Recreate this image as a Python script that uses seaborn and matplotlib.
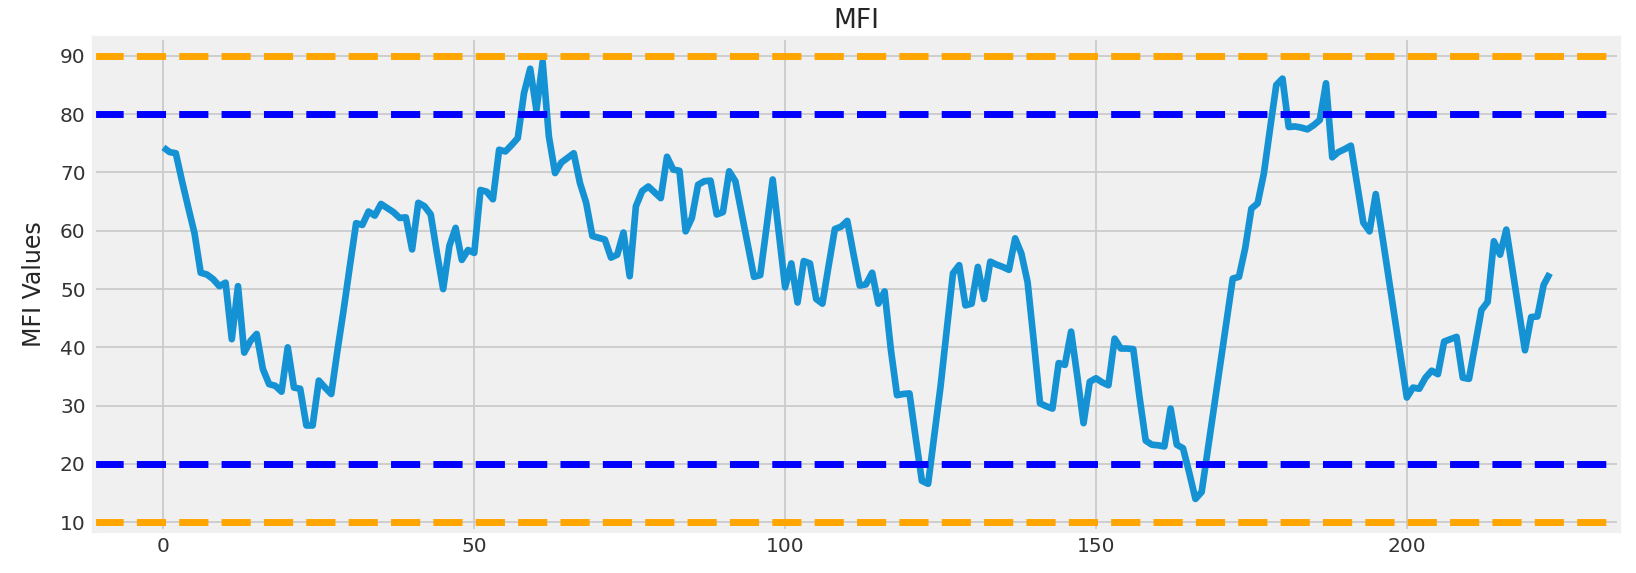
import numpy as np
import pandas as pd
import matplotlib
matplotlib.use("Agg")
import matplotlib.pyplot as plt
import seaborn as sns

# MFI values, one per period (0..223)
mfi_values = [
    74.3, 73.5, 73.3, 68.5, 64.0, 59.6, 52.8, 52.5, 51.7, 50.5,
    51.1, 41.4, 50.5, 39.1, 41.1, 42.3, 36.3, 33.7, 33.4, 32.4,
    40.0, 33.1, 32.9, 26.6, 26.6, 34.3, 33.1, 32.0, 39.5, 46.5,
    54.0, 61.3, 61.0, 63.3, 62.6, 64.6, 63.9, 63.2, 62.2, 62.3,
    56.8, 64.8, 64.2, 62.8, 56.2, 50.0, 57.4, 60.5, 55.0, 56.7,
    56.2, 67.0, 66.7, 65.4, 73.9, 73.6, 74.7, 75.9, 83.6, 87.8,
    80.7, 89.0, 76.2, 69.9, 71.7, 72.5, 73.3, 68.2, 64.8, 59.1,
    58.8, 58.5, 55.4, 55.9, 59.7, 52.2, 64.2, 66.8, 67.6, 66.6,
    65.6, 72.7, 70.5, 70.3, 59.9, 62.2, 67.9, 68.5, 68.6, 62.8,
    63.2, 70.2, 68.5, 63.0, 57.4, 52.1, 52.4, 60.5, 68.8, 59.5,
    50.3, 54.4, 47.7, 54.8, 54.4, 48.3, 47.5, 54.0, 60.3, 60.7,
    61.7, 56.0, 50.6, 50.8, 52.8, 47.5, 49.6, 39.7, 31.8, 32.0,
    32.1, 24.5, 17.1, 16.6, 25.0, 33.3, 43.0, 52.7, 54.1, 47.2,
    47.5, 53.8, 48.3, 54.7, 54.2, 53.8, 53.3, 58.7, 56.1, 51.2,
    41.0, 30.4, 29.9, 29.5, 37.3, 37.0, 42.7, 35.0, 27.0, 34.1,
    34.7, 34.0, 33.5, 41.5, 39.8, 39.8, 39.7, 31.5, 24.0, 23.3,
    23.2, 23.0, 29.5, 23.3, 22.7, 18.5, 14.0, 15.2, 22.5, 29.8,
    37.0, 44.5, 51.8, 52.1, 57.0, 63.8, 64.7, 69.8, 77.5, 85.0,
    86.1, 77.8, 77.9, 77.7, 77.4, 78.1, 79.0, 85.3, 72.6, 73.5,
    74.0, 74.6, 68.0, 61.4, 59.9, 66.3, 59.5, 52.5, 45.5, 38.5,
    31.4, 33.1, 32.9, 34.8, 36.0, 35.4, 41.0, 41.4, 41.8, 34.8,
    34.6, 40.5, 46.4, 47.8, 58.2, 55.9, 60.2, 53.3, 46.4, 39.5,
    45.2, 45.3, 50.7, 52.7,
]

# reference levels
outer_levels = [10, 90]
inner_levels = [20, 80]

df = pd.DataFrame({"period": np.arange(len(mfi_values)), "mfi": mfi_values})

plt.style.use("fivethirtyeight")
plt.rcParams["font.family"] = ["DejaVu Sans"]

fig = plt.figure(figsize=(16.36, 5.73), dpi=100, facecolor="white")
ax = fig.add_subplot(111)
fig.subplots_adjust(left=0.0575, right=0.9897, bottom=0.0733, top=0.934)

sns.lineplot(data=df, x="period", y="mfi", ax=ax, color="#1592d3", linewidth=4.8)

for lvl in outer_levels:
    ax.axhline(lvl, linestyle="--", color="orange", linewidth=5, dashes=(4.2, 1.9))
for lvl in inner_levels:
    ax.axhline(lvl, linestyle="--", color="blue", linewidth=5, dashes=(4.2, 1.9))

ax.set_ylim(8.5, 93.1)
ax.set_yticks(np.arange(10, 91, 10))
ax.set_xticks(np.arange(0, 201, 50))
ax.grid(True, color="#cbcbcb", linewidth=1.3)
ax.tick_params(axis="both", labelsize=14.5, colors="#333333")
ax.tick_params(axis="y", pad=6)
ax.tick_params(axis="x", pad=4)

ax.set_xlabel("")
ax.set_ylabel("MFI Values", fontsize=17, color="#262626", labelpad=10)
ax.set_title("MFI", fontsize=19, color="#262626", pad=7)

fig.savefig("out.png", dpi=100, facecolor="white")
